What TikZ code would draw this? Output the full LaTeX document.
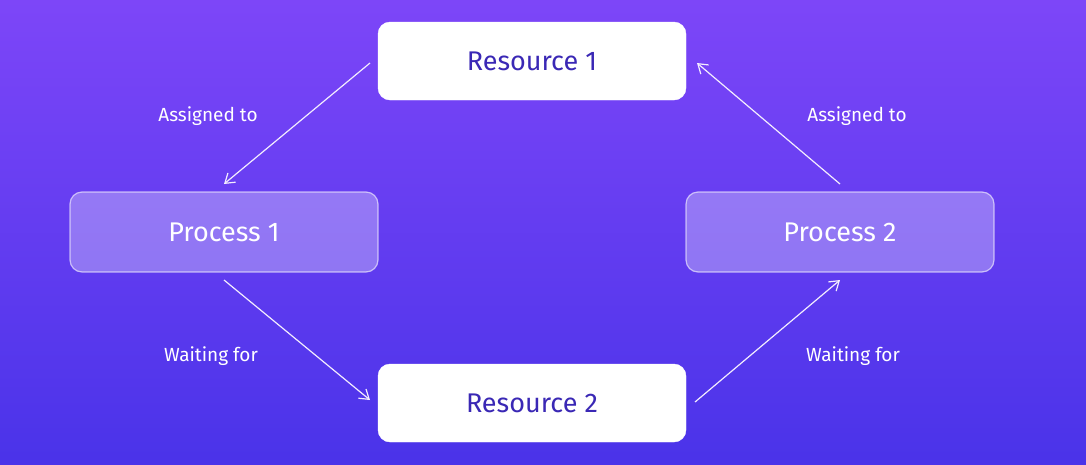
\documentclass[tikz,border=0pt]{standalone}
\usepackage{fontspec}
\setmainfont{Fira Sans}
\usetikzlibrary{arrows.meta}
\definecolor{bgtop}{HTML}{7D46F8}
\definecolor{bgbot}{HTML}{4A33E9}
\definecolor{restext}{HTML}{3A28B5}
\tikzset{
 x=1pt,y=-1pt,
 res/.style={draw=white,fill=white,rounded corners=12pt,minimum width=308pt,minimum height=78pt,text=restext,font=\fontsize{27}{30}\selectfont},
 proc/.style={draw=white,draw opacity=0.6,line width=1.2pt,fill=white,fill opacity=0.3,text opacity=1,rounded corners=12pt,minimum width=308pt,minimum height=80pt,text=white,font=\fontsize{27}{30}\selectfont},
 lab/.style={text=white,font=\fontsize{19}{22}\selectfont},
 arr/.style={draw=white!90!bgtop,line width=1.2pt,-{Straight Barb[length=9pt,width=12pt]}}
}
\begin{document}
\begin{tikzpicture}
\shade[top color=bgtop,bottom color=bgbot] (0,0) rectangle (1086,464);
\useasboundingbox (0,0) rectangle (1086,464);
\node[res] (r1) at (532,61) {Resource 1};
\node[res] (r2) at (532,403) {Resource 2};
\node[proc] (p1) at (224,232) {Process 1};
\node[proc] (p2) at (840,232) {Process 2};
\coordinate (a1) at (370,63); \coordinate (a2) at (224,184);
\coordinate (b1) at (224,280); \coordinate (b2) at (370,400);
\coordinate (c1) at (695,402); \coordinate (c2) at (840,280);
\coordinate (d1) at (840,184); \coordinate (d2) at (697,63);
\draw[arr] (a1) -- (a2);
\draw[arr] (b1) -- (b2);
\draw[arr] (c1) -- (c2);
\draw[arr] (d1) -- (d2);
\node[lab] (l1) at (208,116) {Assigned to};
\node[lab] (l2) at (857,116) {Assigned to};
\node[lab] (l3) at (211,356) {Waiting for};
\node[lab] (l4) at (853,356) {Waiting for};
\end{tikzpicture}
\end{document}
